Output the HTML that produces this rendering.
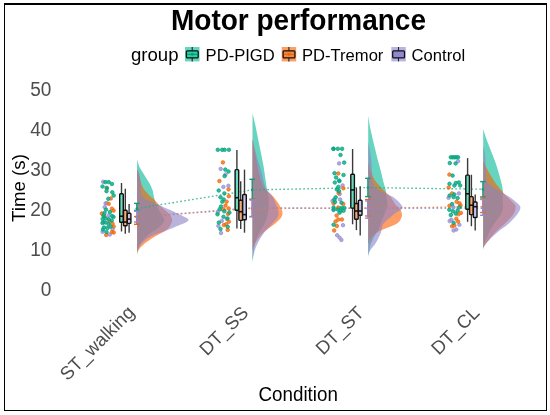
<!DOCTYPE html>
<html><head><meta charset="utf-8"><title>Motor performance</title>
<style>html,body{margin:0;padding:0;background:#fff;} body{width:550px;height:415px;overflow:hidden;}
.frame{position:absolute;box-sizing:border-box;left:3.6px;top:3.1px;width:543.4px;height:407.9px;border-style:solid;border-color:#000;border-width:2px 1.8px 1.6px 1.9px;}
svg{position:absolute;left:0;top:0}</style></head>
<body>
<svg width="550" height="415" viewBox="0 0 550 415">
<rect x="0" y="0" width="550" height="415" fill="#fff"/>
<path d="M137.10,159.20 C137.50,160.50 138.50,164.70 139.50,167.00 C140.50,169.30 141.88,170.98 143.10,173.00 C144.32,175.02 145.58,177.08 146.80,179.10 C148.02,181.12 149.40,183.10 150.40,185.10 C151.40,187.10 152.20,189.08 152.80,191.10 C153.40,193.12 153.62,195.58 154.00,197.20 C154.38,198.82 154.67,199.50 155.10,200.80 C155.53,202.10 155.83,203.18 156.60,205.00 C157.37,206.82 158.45,209.38 159.70,211.70 C160.95,214.02 163.60,216.98 164.10,218.90 C164.60,220.82 163.90,221.52 162.70,223.20 C161.50,224.88 159.07,227.30 156.90,229.00 C154.73,230.70 151.87,231.72 149.70,233.40 C147.53,235.08 145.57,237.18 143.90,239.10 C142.23,241.02 140.67,243.08 139.70,244.90 C138.73,246.72 138.53,248.20 138.10,250.00 C137.67,251.80 137.27,254.75 137.10,255.70 L137.10,255.70Z" fill="#00b793" fill-opacity="0.6"/>
<path d="M137.10,169.00 C137.32,169.58 138.00,171.17 138.40,172.50 C138.80,173.83 139.05,175.25 139.50,177.00 C139.95,178.75 140.47,181.10 141.10,183.00 C141.73,184.90 142.38,186.82 143.30,188.40 C144.22,189.98 145.38,191.10 146.60,192.50 C147.82,193.90 149.35,195.62 150.60,196.80 C151.85,197.98 152.60,198.15 154.10,199.60 C155.60,201.05 157.77,203.77 159.60,205.50 C161.43,207.23 163.52,208.58 165.10,210.00 C166.68,211.42 167.93,212.52 169.10,214.00 C170.27,215.48 171.73,217.37 172.10,218.90 C172.47,220.43 172.17,221.40 171.30,223.20 C170.43,225.00 169.57,227.53 166.90,229.70 C164.23,231.87 158.67,234.15 155.30,236.20 C151.93,238.25 149.10,240.18 146.70,242.00 C144.30,243.82 142.33,245.60 140.90,247.10 C139.47,248.60 138.73,250.02 138.10,251.00 C137.47,251.98 137.27,252.67 137.10,253.00 L137.10,253.00Z" fill="#fa5d00" fill-opacity="0.6"/>
<path d="M137.10,169.00 C137.40,169.58 138.43,171.17 138.90,172.50 C139.37,173.83 139.62,175.25 139.90,177.00 C140.18,178.75 140.43,180.83 140.60,183.00 C140.77,185.17 140.65,187.83 140.90,190.00 C141.15,192.17 141.07,194.33 142.10,196.00 C143.13,197.67 144.43,198.58 147.10,200.00 C149.77,201.42 155.02,203.17 158.10,204.50 C161.18,205.83 162.93,206.80 165.60,208.00 C168.27,209.20 171.02,210.25 174.10,211.70 C177.18,213.15 181.68,215.38 184.10,216.70 C186.52,218.02 188.33,218.63 188.60,219.60 C188.87,220.57 187.38,221.53 185.70,222.50 C184.02,223.47 180.67,224.50 178.50,225.40 C176.33,226.30 174.43,227.18 172.70,227.90 C170.97,228.62 170.37,228.85 168.10,229.70 C165.83,230.55 162.10,231.83 159.10,233.00 C156.10,234.17 152.77,235.20 150.10,236.70 C147.43,238.20 144.93,240.28 143.10,242.00 C141.27,243.72 140.10,245.50 139.10,247.00 C138.10,248.50 137.43,250.33 137.10,251.00 L137.10,251.00Z" fill="#8c80c8" fill-opacity="0.6"/>
<path d="M252.50,113.20 C252.98,115.25 254.23,120.03 255.40,125.50 C256.57,130.97 258.13,139.17 259.50,146.00 C260.87,152.83 262.42,159.67 263.60,166.50 C264.78,173.33 265.78,181.98 266.60,187.00 C267.42,192.02 268.18,193.08 268.50,196.60 C268.82,200.12 268.67,204.90 268.50,208.10 C268.33,211.30 268.13,213.23 267.50,215.80 C266.87,218.37 266.13,220.60 264.70,223.50 C263.27,226.40 260.52,229.98 258.90,233.20 C257.28,236.42 255.87,239.60 255.00,242.80 C254.13,246.00 254.12,249.20 253.70,252.40 C253.28,255.60 252.70,260.40 252.50,262.00 L252.50,262.00Z" fill="#00b793" fill-opacity="0.6"/>
<path d="M252.50,138.70 C253.12,142.08 255.12,153.22 256.20,159.00 C257.28,164.78 257.68,168.60 259.00,173.40 C260.32,178.20 261.73,183.93 264.10,187.80 C266.47,191.67 270.38,193.22 273.20,196.60 C276.02,199.98 279.53,204.90 281.00,208.10 C282.47,211.30 282.97,213.23 282.00,215.80 C281.03,218.37 278.45,220.60 275.20,223.50 C271.95,226.40 265.78,229.98 262.50,233.20 C259.22,236.42 257.17,240.00 255.50,242.80 C253.83,245.60 253.00,248.80 252.50,250.00 L252.50,250.00Z" fill="#fa5d00" fill-opacity="0.6"/>
<path d="M252.50,138.70 C253.33,142.08 255.93,153.22 257.50,159.00 C259.07,164.78 260.57,168.60 261.90,173.40 C263.23,178.20 263.75,183.93 265.50,187.80 C267.25,191.67 270.45,193.22 272.40,196.60 C274.35,199.98 276.23,204.90 277.20,208.10 C278.17,211.30 279.00,213.23 278.20,215.80 C277.40,218.37 274.82,220.60 272.40,223.50 C269.98,226.40 266.12,229.98 263.70,233.20 C261.28,236.42 259.50,239.60 257.90,242.80 C256.30,246.00 255.00,249.20 254.10,252.40 C253.20,255.60 252.77,260.40 252.50,262.00 L252.50,262.00Z" fill="#8c80c8" fill-opacity="0.6"/>
<path d="M368.20,115.80 C368.58,118.05 369.37,123.85 370.50,129.30 C371.63,134.75 373.78,143.38 375.00,148.50 C376.22,153.62 376.97,156.78 377.80,160.00 C378.63,163.22 379.00,163.93 380.00,167.80 C381.00,171.67 382.88,179.68 383.80,183.20 C384.72,186.72 385.05,186.67 385.50,188.90 C385.95,191.13 386.17,194.03 386.50,196.60 C386.83,199.17 387.50,202.22 387.50,204.30 C387.50,206.38 386.98,207.50 386.50,209.10 C386.02,210.70 385.57,211.50 384.60,213.90 C383.63,216.30 381.67,220.93 380.70,223.50 C379.73,226.07 379.55,227.68 378.80,229.30 C378.05,230.92 377.47,230.95 376.20,233.20 C374.93,235.45 372.33,239.92 371.20,242.80 C370.07,245.68 369.90,248.08 369.40,250.50 C368.90,252.92 368.40,256.17 368.20,257.30 L368.20,257.30Z" fill="#00b793" fill-opacity="0.6"/>
<path d="M368.20,162.00 C368.63,163.67 369.30,168.47 370.80,172.00 C372.30,175.53 373.97,179.10 377.20,183.20 C380.43,187.30 387.20,193.08 390.20,196.60 C393.20,200.12 393.57,202.22 395.20,204.30 C396.83,206.38 398.88,207.50 400.00,209.10 C401.12,210.70 401.70,212.42 401.90,213.90 C402.10,215.38 402.00,216.40 401.20,218.00 C400.40,219.60 400.03,221.62 397.10,223.50 C394.17,225.38 387.08,227.68 383.60,229.30 C380.12,230.92 378.27,231.75 376.20,233.20 C374.13,234.65 372.53,236.20 371.20,238.00 C369.87,239.80 368.70,243.00 368.20,244.00 L368.20,244.00Z" fill="#fa5d00" fill-opacity="0.6"/>
<path d="M368.20,142.00 C368.47,143.33 369.33,147.33 369.80,150.00 C370.27,152.67 370.67,155.03 371.00,158.00 C371.33,160.97 371.57,164.80 371.80,167.80 C372.03,170.80 372.17,173.43 372.40,176.00 C372.63,178.57 372.40,181.05 373.20,183.20 C374.00,185.35 374.02,186.67 377.20,188.90 C380.38,191.13 388.35,194.03 392.30,196.60 C396.25,199.17 399.30,202.22 400.90,204.30 C402.50,206.38 403.02,207.50 401.90,209.10 C400.78,210.70 397.25,211.50 394.20,213.90 C391.15,216.30 385.68,220.93 383.60,223.50 C381.52,226.07 382.18,227.68 381.70,229.30 C381.22,230.92 381.67,230.95 380.70,233.20 C379.73,235.45 377.67,239.92 375.90,242.80 C374.13,245.68 371.38,248.47 370.10,250.50 C368.82,252.53 368.52,254.25 368.20,255.00 L368.20,255.00Z" fill="#8c80c8" fill-opacity="0.6"/>
<path d="M483.20,128.90 C483.57,130.08 484.53,133.43 485.40,136.00 C486.27,138.57 486.67,139.72 488.40,144.30 C490.13,148.88 493.63,157.08 495.80,163.50 C497.97,169.92 500.20,177.98 501.40,182.80 C502.60,187.62 502.78,189.87 503.00,192.40 C503.22,194.93 502.70,196.02 502.70,198.00 C502.70,199.98 502.95,202.62 503.00,204.30 C503.05,205.98 503.32,206.50 503.00,208.10 C502.68,209.70 502.53,211.33 501.10,213.90 C499.67,216.47 496.48,220.28 494.40,223.50 C492.32,226.72 490.22,229.98 488.60,233.20 C486.98,236.42 485.60,239.92 484.70,242.80 C483.80,245.68 483.45,249.22 483.20,250.50 L483.20,250.50Z" fill="#00b793" fill-opacity="0.6"/>
<path d="M483.20,160.00 C483.45,160.67 483.78,162.00 484.70,164.00 C485.62,166.00 486.95,168.87 488.70,172.00 C490.45,175.13 493.30,179.98 495.20,182.80 C497.10,185.62 498.15,186.60 500.10,188.90 C502.05,191.20 504.48,194.03 506.90,196.60 C509.32,199.17 513.17,202.38 514.60,204.30 C516.03,206.22 515.67,206.50 515.50,208.10 C515.33,209.70 515.37,211.33 513.60,213.90 C511.83,216.47 508.10,220.28 504.90,223.50 C501.70,226.72 497.45,229.98 494.40,233.20 C491.35,236.42 488.47,240.33 486.60,242.80 C484.73,245.27 483.77,247.13 483.20,248.00 L483.20,248.00Z" fill="#fa5d00" fill-opacity="0.6"/>
<path d="M483.20,146.00 C483.45,147.00 484.33,149.67 484.70,152.00 C485.07,154.33 485.22,157.00 485.40,160.00 C485.58,163.00 485.67,167.33 485.80,170.00 C485.93,172.67 485.88,173.87 486.20,176.00 C486.52,178.13 486.03,180.65 487.70,182.80 C489.37,184.95 492.68,186.60 496.20,188.90 C499.72,191.20 505.10,194.03 508.80,196.60 C512.50,199.17 516.47,202.38 518.40,204.30 C520.33,206.22 520.55,206.50 520.40,208.10 C520.25,209.70 519.43,211.33 517.50,213.90 C515.57,216.47 512.33,220.28 508.80,223.50 C505.27,226.72 500.00,229.98 496.30,233.20 C492.60,236.42 488.78,240.33 486.60,242.80 C484.42,245.27 483.77,247.13 483.20,248.00 L483.20,248.00Z" fill="#8c80c8" fill-opacity="0.6"/>
<polyline points="136.8,208.5 252.2,189.9 367.9,187.6 482.9,189.2" fill="none" stroke="#1fae88" stroke-width="1.35" stroke-opacity="0.8" stroke-dasharray="1.7 2.3"/>
<polyline points="136.8,217.2 252.2,208.4 367.9,208.1 482.9,206.7" fill="none" stroke="#ec7a33" stroke-width="1.35" stroke-opacity="0.8" stroke-dasharray="1.7 2.3"/>
<polyline points="136.8,217.0 252.2,207.8 367.9,208.3 482.9,208.2" fill="none" stroke="#8f89cf" stroke-width="1.35" stroke-opacity="0.8" stroke-dasharray="1.7 2.3"/>
<circle cx="103.2" cy="181.8" r="1.75" fill="#9a94d6" fill-opacity="0.8" stroke="#9a94d6" stroke-opacity="0.85" stroke-width="1"/>
<circle cx="106.5" cy="203.1" r="1.75" fill="#9a94d6" fill-opacity="0.8" stroke="#9a94d6" stroke-opacity="0.85" stroke-width="1"/>
<circle cx="105.6" cy="203.4" r="1.75" fill="#9a94d6" fill-opacity="0.8" stroke="#9a94d6" stroke-opacity="0.85" stroke-width="1"/>
<circle cx="104.7" cy="207.2" r="1.75" fill="#9a94d6" fill-opacity="0.8" stroke="#9a94d6" stroke-opacity="0.85" stroke-width="1"/>
<circle cx="108.6" cy="215.4" r="1.75" fill="#9a94d6" fill-opacity="0.8" stroke="#9a94d6" stroke-opacity="0.85" stroke-width="1"/>
<circle cx="103.5" cy="222.0" r="1.75" fill="#9a94d6" fill-opacity="0.8" stroke="#9a94d6" stroke-opacity="0.85" stroke-width="1"/>
<circle cx="102.6" cy="231.8" r="1.75" fill="#9a94d6" fill-opacity="0.8" stroke="#9a94d6" stroke-opacity="0.85" stroke-width="1"/>
<circle cx="109.8" cy="234.5" r="1.75" fill="#9a94d6" fill-opacity="0.8" stroke="#9a94d6" stroke-opacity="0.85" stroke-width="1"/>
<circle cx="112.5" cy="229.0" r="1.75" fill="#9a94d6" fill-opacity="0.8" stroke="#9a94d6" stroke-opacity="0.85" stroke-width="1"/>
<circle cx="106.8" cy="188.3" r="1.75" fill="#f36e14" fill-opacity="0.8" stroke="#f36e14" stroke-opacity="0.85" stroke-width="1"/>
<circle cx="110.8" cy="198.4" r="1.75" fill="#f36e14" fill-opacity="0.8" stroke="#f36e14" stroke-opacity="0.85" stroke-width="1"/>
<circle cx="108.7" cy="203.8" r="1.75" fill="#f36e14" fill-opacity="0.8" stroke="#f36e14" stroke-opacity="0.85" stroke-width="1"/>
<circle cx="111.9" cy="208.7" r="1.75" fill="#f36e14" fill-opacity="0.8" stroke="#f36e14" stroke-opacity="0.85" stroke-width="1"/>
<circle cx="113.6" cy="210.6" r="1.75" fill="#f36e14" fill-opacity="0.8" stroke="#f36e14" stroke-opacity="0.85" stroke-width="1"/>
<circle cx="101.8" cy="213.5" r="1.75" fill="#f36e14" fill-opacity="0.8" stroke="#f36e14" stroke-opacity="0.85" stroke-width="1"/>
<circle cx="109.5" cy="221.5" r="1.75" fill="#f36e14" fill-opacity="0.8" stroke="#f36e14" stroke-opacity="0.85" stroke-width="1"/>
<circle cx="112.5" cy="223.6" r="1.75" fill="#f36e14" fill-opacity="0.8" stroke="#f36e14" stroke-opacity="0.85" stroke-width="1"/>
<circle cx="113.7" cy="226.5" r="1.75" fill="#f36e14" fill-opacity="0.8" stroke="#f36e14" stroke-opacity="0.85" stroke-width="1"/>
<circle cx="112.0" cy="232.0" r="1.75" fill="#f36e14" fill-opacity="0.8" stroke="#f36e14" stroke-opacity="0.85" stroke-width="1"/>
<circle cx="113.7" cy="232.5" r="1.75" fill="#f36e14" fill-opacity="0.8" stroke="#f36e14" stroke-opacity="0.85" stroke-width="1"/>
<circle cx="106.2" cy="235.0" r="1.75" fill="#f36e14" fill-opacity="0.8" stroke="#f36e14" stroke-opacity="0.85" stroke-width="1"/>
<circle cx="104.0" cy="216.5" r="1.75" fill="#f36e14" fill-opacity="0.8" stroke="#f36e14" stroke-opacity="0.85" stroke-width="1"/>
<circle cx="105.4" cy="182.1" r="1.75" fill="#08a882" fill-opacity="0.8" stroke="#08a882" stroke-opacity="0.85" stroke-width="1"/>
<circle cx="108.7" cy="182.1" r="1.75" fill="#08a882" fill-opacity="0.8" stroke="#08a882" stroke-opacity="0.85" stroke-width="1"/>
<circle cx="111.9" cy="184.0" r="1.75" fill="#08a882" fill-opacity="0.8" stroke="#08a882" stroke-opacity="0.85" stroke-width="1"/>
<circle cx="102.5" cy="186.5" r="1.75" fill="#08a882" fill-opacity="0.8" stroke="#08a882" stroke-opacity="0.85" stroke-width="1"/>
<circle cx="106.8" cy="187.9" r="1.75" fill="#08a882" fill-opacity="0.8" stroke="#08a882" stroke-opacity="0.85" stroke-width="1"/>
<circle cx="106.5" cy="191.2" r="1.75" fill="#08a882" fill-opacity="0.8" stroke="#08a882" stroke-opacity="0.85" stroke-width="1"/>
<circle cx="112.3" cy="192.3" r="1.75" fill="#08a882" fill-opacity="0.8" stroke="#08a882" stroke-opacity="0.85" stroke-width="1"/>
<circle cx="113.7" cy="195.5" r="1.75" fill="#08a882" fill-opacity="0.8" stroke="#08a882" stroke-opacity="0.85" stroke-width="1"/>
<circle cx="108.3" cy="198.8" r="1.75" fill="#08a882" fill-opacity="0.8" stroke="#08a882" stroke-opacity="0.85" stroke-width="1"/>
<circle cx="106.0" cy="209.6" r="1.75" fill="#08a882" fill-opacity="0.8" stroke="#08a882" stroke-opacity="0.85" stroke-width="1"/>
<circle cx="104.5" cy="213.0" r="1.75" fill="#08a882" fill-opacity="0.8" stroke="#08a882" stroke-opacity="0.85" stroke-width="1"/>
<circle cx="112.0" cy="216.0" r="1.75" fill="#08a882" fill-opacity="0.8" stroke="#08a882" stroke-opacity="0.85" stroke-width="1"/>
<circle cx="113.5" cy="217.0" r="1.75" fill="#08a882" fill-opacity="0.8" stroke="#08a882" stroke-opacity="0.85" stroke-width="1"/>
<circle cx="102.7" cy="219.0" r="1.75" fill="#08a882" fill-opacity="0.8" stroke="#08a882" stroke-opacity="0.85" stroke-width="1"/>
<circle cx="105.6" cy="218.3" r="1.75" fill="#08a882" fill-opacity="0.8" stroke="#08a882" stroke-opacity="0.85" stroke-width="1"/>
<circle cx="108.7" cy="219.3" r="1.75" fill="#08a882" fill-opacity="0.8" stroke="#08a882" stroke-opacity="0.85" stroke-width="1"/>
<circle cx="111.7" cy="220.5" r="1.75" fill="#08a882" fill-opacity="0.8" stroke="#08a882" stroke-opacity="0.85" stroke-width="1"/>
<circle cx="102.5" cy="223.0" r="1.75" fill="#08a882" fill-opacity="0.8" stroke="#08a882" stroke-opacity="0.85" stroke-width="1"/>
<circle cx="105.5" cy="222.5" r="1.75" fill="#08a882" fill-opacity="0.8" stroke="#08a882" stroke-opacity="0.85" stroke-width="1"/>
<circle cx="108.5" cy="224.0" r="1.75" fill="#08a882" fill-opacity="0.8" stroke="#08a882" stroke-opacity="0.85" stroke-width="1"/>
<circle cx="104.0" cy="227.5" r="1.75" fill="#08a882" fill-opacity="0.8" stroke="#08a882" stroke-opacity="0.85" stroke-width="1"/>
<circle cx="107.5" cy="228.0" r="1.75" fill="#08a882" fill-opacity="0.8" stroke="#08a882" stroke-opacity="0.85" stroke-width="1"/>
<circle cx="110.5" cy="226.5" r="1.75" fill="#08a882" fill-opacity="0.8" stroke="#08a882" stroke-opacity="0.85" stroke-width="1"/>
<circle cx="106.5" cy="232.0" r="1.75" fill="#08a882" fill-opacity="0.8" stroke="#08a882" stroke-opacity="0.85" stroke-width="1"/>
<circle cx="103.5" cy="215.5" r="1.75" fill="#08a882" fill-opacity="0.8" stroke="#08a882" stroke-opacity="0.85" stroke-width="1"/>
<circle cx="110.0" cy="212.0" r="1.75" fill="#08a882" fill-opacity="0.8" stroke="#08a882" stroke-opacity="0.85" stroke-width="1"/>
<circle cx="103.0" cy="229.5" r="1.75" fill="#08a882" fill-opacity="0.8" stroke="#08a882" stroke-opacity="0.85" stroke-width="1"/>
<circle cx="220.7" cy="168.9" r="1.75" fill="#9a94d6" fill-opacity="0.8" stroke="#9a94d6" stroke-opacity="0.85" stroke-width="1"/>
<circle cx="225.6" cy="174.4" r="1.75" fill="#9a94d6" fill-opacity="0.8" stroke="#9a94d6" stroke-opacity="0.85" stroke-width="1"/>
<circle cx="223.4" cy="186.9" r="1.75" fill="#9a94d6" fill-opacity="0.8" stroke="#9a94d6" stroke-opacity="0.85" stroke-width="1"/>
<circle cx="228.4" cy="185.8" r="1.75" fill="#9a94d6" fill-opacity="0.8" stroke="#9a94d6" stroke-opacity="0.85" stroke-width="1"/>
<circle cx="217.8" cy="212.2" r="1.75" fill="#9a94d6" fill-opacity="0.8" stroke="#9a94d6" stroke-opacity="0.85" stroke-width="1"/>
<circle cx="226.9" cy="218.9" r="1.75" fill="#9a94d6" fill-opacity="0.8" stroke="#9a94d6" stroke-opacity="0.85" stroke-width="1"/>
<circle cx="221.8" cy="220.9" r="1.75" fill="#9a94d6" fill-opacity="0.8" stroke="#9a94d6" stroke-opacity="0.85" stroke-width="1"/>
<circle cx="218.4" cy="225.9" r="1.75" fill="#9a94d6" fill-opacity="0.8" stroke="#9a94d6" stroke-opacity="0.85" stroke-width="1"/>
<circle cx="221.0" cy="233.0" r="1.75" fill="#9a94d6" fill-opacity="0.8" stroke="#9a94d6" stroke-opacity="0.85" stroke-width="1"/>
<circle cx="222.9" cy="162.4" r="1.75" fill="#f36e14" fill-opacity="0.8" stroke="#f36e14" stroke-opacity="0.85" stroke-width="1"/>
<circle cx="219.4" cy="181.1" r="1.75" fill="#f36e14" fill-opacity="0.8" stroke="#f36e14" stroke-opacity="0.85" stroke-width="1"/>
<circle cx="228.5" cy="189.4" r="1.75" fill="#f36e14" fill-opacity="0.8" stroke="#f36e14" stroke-opacity="0.85" stroke-width="1"/>
<circle cx="228.8" cy="196.2" r="1.75" fill="#f36e14" fill-opacity="0.8" stroke="#f36e14" stroke-opacity="0.85" stroke-width="1"/>
<circle cx="226.6" cy="201.7" r="1.75" fill="#f36e14" fill-opacity="0.8" stroke="#f36e14" stroke-opacity="0.85" stroke-width="1"/>
<circle cx="223.5" cy="209.2" r="1.75" fill="#f36e14" fill-opacity="0.8" stroke="#f36e14" stroke-opacity="0.85" stroke-width="1"/>
<circle cx="228.6" cy="208.4" r="1.75" fill="#f36e14" fill-opacity="0.8" stroke="#f36e14" stroke-opacity="0.85" stroke-width="1"/>
<circle cx="228.0" cy="214.0" r="1.75" fill="#f36e14" fill-opacity="0.8" stroke="#f36e14" stroke-opacity="0.85" stroke-width="1"/>
<circle cx="228.9" cy="221.7" r="1.75" fill="#f36e14" fill-opacity="0.8" stroke="#f36e14" stroke-opacity="0.85" stroke-width="1"/>
<circle cx="223.9" cy="225.1" r="1.75" fill="#f36e14" fill-opacity="0.8" stroke="#f36e14" stroke-opacity="0.85" stroke-width="1"/>
<circle cx="226.1" cy="224.3" r="1.75" fill="#f36e14" fill-opacity="0.8" stroke="#f36e14" stroke-opacity="0.85" stroke-width="1"/>
<circle cx="227.7" cy="229.9" r="1.75" fill="#f36e14" fill-opacity="0.8" stroke="#f36e14" stroke-opacity="0.85" stroke-width="1"/>
<circle cx="225.5" cy="205.5" r="1.75" fill="#f36e14" fill-opacity="0.8" stroke="#f36e14" stroke-opacity="0.85" stroke-width="1"/>
<circle cx="217.8" cy="149.8" r="1.75" fill="#08a882" fill-opacity="0.8" stroke="#08a882" stroke-opacity="0.85" stroke-width="1"/>
<circle cx="222.2" cy="149.8" r="1.75" fill="#08a882" fill-opacity="0.8" stroke="#08a882" stroke-opacity="0.85" stroke-width="1"/>
<circle cx="224.6" cy="149.8" r="1.75" fill="#08a882" fill-opacity="0.8" stroke="#08a882" stroke-opacity="0.85" stroke-width="1"/>
<circle cx="228.9" cy="149.8" r="1.75" fill="#08a882" fill-opacity="0.8" stroke="#08a882" stroke-opacity="0.85" stroke-width="1"/>
<circle cx="225.3" cy="169.6" r="1.75" fill="#08a882" fill-opacity="0.8" stroke="#08a882" stroke-opacity="0.85" stroke-width="1"/>
<circle cx="228.5" cy="171.5" r="1.75" fill="#08a882" fill-opacity="0.8" stroke="#08a882" stroke-opacity="0.85" stroke-width="1"/>
<circle cx="224.6" cy="176.1" r="1.75" fill="#08a882" fill-opacity="0.8" stroke="#08a882" stroke-opacity="0.85" stroke-width="1"/>
<circle cx="218.7" cy="190.5" r="1.75" fill="#08a882" fill-opacity="0.8" stroke="#08a882" stroke-opacity="0.85" stroke-width="1"/>
<circle cx="224.4" cy="193.4" r="1.75" fill="#08a882" fill-opacity="0.8" stroke="#08a882" stroke-opacity="0.85" stroke-width="1"/>
<circle cx="220.5" cy="197.3" r="1.75" fill="#08a882" fill-opacity="0.8" stroke="#08a882" stroke-opacity="0.85" stroke-width="1"/>
<circle cx="223.7" cy="199.5" r="1.75" fill="#08a882" fill-opacity="0.8" stroke="#08a882" stroke-opacity="0.85" stroke-width="1"/>
<circle cx="222.3" cy="201.7" r="1.75" fill="#08a882" fill-opacity="0.8" stroke="#08a882" stroke-opacity="0.85" stroke-width="1"/>
<circle cx="219.7" cy="209.2" r="1.75" fill="#08a882" fill-opacity="0.8" stroke="#08a882" stroke-opacity="0.85" stroke-width="1"/>
<circle cx="224.3" cy="211.3" r="1.75" fill="#08a882" fill-opacity="0.8" stroke="#08a882" stroke-opacity="0.85" stroke-width="1"/>
<circle cx="229.4" cy="212.6" r="1.75" fill="#08a882" fill-opacity="0.8" stroke="#08a882" stroke-opacity="0.85" stroke-width="1"/>
<circle cx="217.5" cy="214.3" r="1.75" fill="#08a882" fill-opacity="0.8" stroke="#08a882" stroke-opacity="0.85" stroke-width="1"/>
<circle cx="223.5" cy="216.8" r="1.75" fill="#08a882" fill-opacity="0.8" stroke="#08a882" stroke-opacity="0.85" stroke-width="1"/>
<circle cx="218.8" cy="222.6" r="1.75" fill="#08a882" fill-opacity="0.8" stroke="#08a882" stroke-opacity="0.85" stroke-width="1"/>
<circle cx="227.7" cy="226.8" r="1.75" fill="#08a882" fill-opacity="0.8" stroke="#08a882" stroke-opacity="0.85" stroke-width="1"/>
<circle cx="220.5" cy="229.1" r="1.75" fill="#08a882" fill-opacity="0.8" stroke="#08a882" stroke-opacity="0.85" stroke-width="1"/>
<circle cx="221.0" cy="206.5" r="1.75" fill="#08a882" fill-opacity="0.8" stroke="#08a882" stroke-opacity="0.85" stroke-width="1"/>
<circle cx="227.5" cy="218.5" r="1.75" fill="#08a882" fill-opacity="0.8" stroke="#08a882" stroke-opacity="0.85" stroke-width="1"/>
<circle cx="339.1" cy="163.4" r="1.75" fill="#9a94d6" fill-opacity="0.8" stroke="#9a94d6" stroke-opacity="0.85" stroke-width="1"/>
<circle cx="342.6" cy="185.4" r="1.75" fill="#9a94d6" fill-opacity="0.8" stroke="#9a94d6" stroke-opacity="0.85" stroke-width="1"/>
<circle cx="339.7" cy="194.0" r="1.75" fill="#9a94d6" fill-opacity="0.8" stroke="#9a94d6" stroke-opacity="0.85" stroke-width="1"/>
<circle cx="340.1" cy="199.5" r="1.75" fill="#9a94d6" fill-opacity="0.8" stroke="#9a94d6" stroke-opacity="0.85" stroke-width="1"/>
<circle cx="332.5" cy="201.0" r="1.75" fill="#9a94d6" fill-opacity="0.8" stroke="#9a94d6" stroke-opacity="0.85" stroke-width="1"/>
<circle cx="333.5" cy="210.0" r="1.75" fill="#9a94d6" fill-opacity="0.8" stroke="#9a94d6" stroke-opacity="0.85" stroke-width="1"/>
<circle cx="343.0" cy="225.2" r="1.75" fill="#9a94d6" fill-opacity="0.8" stroke="#9a94d6" stroke-opacity="0.85" stroke-width="1"/>
<circle cx="337.1" cy="235.2" r="1.75" fill="#9a94d6" fill-opacity="0.8" stroke="#9a94d6" stroke-opacity="0.85" stroke-width="1"/>
<circle cx="339.5" cy="237.6" r="1.75" fill="#9a94d6" fill-opacity="0.8" stroke="#9a94d6" stroke-opacity="0.85" stroke-width="1"/>
<circle cx="341.4" cy="239.9" r="1.75" fill="#9a94d6" fill-opacity="0.8" stroke="#9a94d6" stroke-opacity="0.85" stroke-width="1"/>
<circle cx="338.3" cy="173.4" r="1.75" fill="#f36e14" fill-opacity="0.8" stroke="#f36e14" stroke-opacity="0.85" stroke-width="1"/>
<circle cx="343.3" cy="188.3" r="1.75" fill="#f36e14" fill-opacity="0.8" stroke="#f36e14" stroke-opacity="0.85" stroke-width="1"/>
<circle cx="338.6" cy="193.0" r="1.75" fill="#f36e14" fill-opacity="0.8" stroke="#f36e14" stroke-opacity="0.85" stroke-width="1"/>
<circle cx="333.6" cy="203.5" r="1.75" fill="#f36e14" fill-opacity="0.8" stroke="#f36e14" stroke-opacity="0.85" stroke-width="1"/>
<circle cx="343.3" cy="204.0" r="1.75" fill="#f36e14" fill-opacity="0.8" stroke="#f36e14" stroke-opacity="0.85" stroke-width="1"/>
<circle cx="338.3" cy="207.5" r="1.75" fill="#f36e14" fill-opacity="0.8" stroke="#f36e14" stroke-opacity="0.85" stroke-width="1"/>
<circle cx="336.6" cy="215.6" r="1.75" fill="#f36e14" fill-opacity="0.8" stroke="#f36e14" stroke-opacity="0.85" stroke-width="1"/>
<circle cx="338.3" cy="219.5" r="1.75" fill="#f36e14" fill-opacity="0.8" stroke="#f36e14" stroke-opacity="0.85" stroke-width="1"/>
<circle cx="341.9" cy="219.5" r="1.75" fill="#f36e14" fill-opacity="0.8" stroke="#f36e14" stroke-opacity="0.85" stroke-width="1"/>
<circle cx="335.6" cy="221.4" r="1.75" fill="#f36e14" fill-opacity="0.8" stroke="#f36e14" stroke-opacity="0.85" stroke-width="1"/>
<circle cx="336.8" cy="226.0" r="1.75" fill="#f36e14" fill-opacity="0.8" stroke="#f36e14" stroke-opacity="0.85" stroke-width="1"/>
<circle cx="334.2" cy="230.5" r="1.75" fill="#f36e14" fill-opacity="0.8" stroke="#f36e14" stroke-opacity="0.85" stroke-width="1"/>
<circle cx="333.3" cy="148.8" r="1.75" fill="#08a882" fill-opacity="0.8" stroke="#08a882" stroke-opacity="0.85" stroke-width="1"/>
<circle cx="333.6" cy="148.8" r="1.75" fill="#08a882" fill-opacity="0.8" stroke="#08a882" stroke-opacity="0.85" stroke-width="1"/>
<circle cx="337.8" cy="148.8" r="1.75" fill="#08a882" fill-opacity="0.8" stroke="#08a882" stroke-opacity="0.85" stroke-width="1"/>
<circle cx="342.1" cy="148.8" r="1.75" fill="#08a882" fill-opacity="0.8" stroke="#08a882" stroke-opacity="0.85" stroke-width="1"/>
<circle cx="340.5" cy="154.9" r="1.75" fill="#08a882" fill-opacity="0.8" stroke="#08a882" stroke-opacity="0.85" stroke-width="1"/>
<circle cx="344.2" cy="162.6" r="1.75" fill="#08a882" fill-opacity="0.8" stroke="#08a882" stroke-opacity="0.85" stroke-width="1"/>
<circle cx="334.5" cy="173.2" r="1.75" fill="#08a882" fill-opacity="0.8" stroke="#08a882" stroke-opacity="0.85" stroke-width="1"/>
<circle cx="343.5" cy="175.0" r="1.75" fill="#08a882" fill-opacity="0.8" stroke="#08a882" stroke-opacity="0.85" stroke-width="1"/>
<circle cx="336.1" cy="177.5" r="1.75" fill="#08a882" fill-opacity="0.8" stroke="#08a882" stroke-opacity="0.85" stroke-width="1"/>
<circle cx="339.2" cy="180.6" r="1.75" fill="#08a882" fill-opacity="0.8" stroke="#08a882" stroke-opacity="0.85" stroke-width="1"/>
<circle cx="334.8" cy="182.5" r="1.75" fill="#08a882" fill-opacity="0.8" stroke="#08a882" stroke-opacity="0.85" stroke-width="1"/>
<circle cx="339.4" cy="181.0" r="1.75" fill="#08a882" fill-opacity="0.8" stroke="#08a882" stroke-opacity="0.85" stroke-width="1"/>
<circle cx="338.3" cy="186.9" r="1.75" fill="#08a882" fill-opacity="0.8" stroke="#08a882" stroke-opacity="0.85" stroke-width="1"/>
<circle cx="336.8" cy="189.4" r="1.75" fill="#08a882" fill-opacity="0.8" stroke="#08a882" stroke-opacity="0.85" stroke-width="1"/>
<circle cx="339.0" cy="191.2" r="1.75" fill="#08a882" fill-opacity="0.8" stroke="#08a882" stroke-opacity="0.85" stroke-width="1"/>
<circle cx="335.7" cy="197.3" r="1.75" fill="#08a882" fill-opacity="0.8" stroke="#08a882" stroke-opacity="0.85" stroke-width="1"/>
<circle cx="334.3" cy="199.5" r="1.75" fill="#08a882" fill-opacity="0.8" stroke="#08a882" stroke-opacity="0.85" stroke-width="1"/>
<circle cx="335.0" cy="202.0" r="1.75" fill="#08a882" fill-opacity="0.8" stroke="#08a882" stroke-opacity="0.85" stroke-width="1"/>
<circle cx="341.5" cy="202.7" r="1.75" fill="#08a882" fill-opacity="0.8" stroke="#08a882" stroke-opacity="0.85" stroke-width="1"/>
<circle cx="333.6" cy="207.5" r="1.75" fill="#08a882" fill-opacity="0.8" stroke="#08a882" stroke-opacity="0.85" stroke-width="1"/>
<circle cx="341.5" cy="208.0" r="1.75" fill="#08a882" fill-opacity="0.8" stroke="#08a882" stroke-opacity="0.85" stroke-width="1"/>
<circle cx="344.4" cy="208.0" r="1.75" fill="#08a882" fill-opacity="0.8" stroke="#08a882" stroke-opacity="0.85" stroke-width="1"/>
<circle cx="333.7" cy="209.5" r="1.75" fill="#08a882" fill-opacity="0.8" stroke="#08a882" stroke-opacity="0.85" stroke-width="1"/>
<circle cx="337.6" cy="209.4" r="1.75" fill="#08a882" fill-opacity="0.8" stroke="#08a882" stroke-opacity="0.85" stroke-width="1"/>
<circle cx="340.5" cy="210.8" r="1.75" fill="#08a882" fill-opacity="0.8" stroke="#08a882" stroke-opacity="0.85" stroke-width="1"/>
<circle cx="343.5" cy="210.8" r="1.75" fill="#08a882" fill-opacity="0.8" stroke="#08a882" stroke-opacity="0.85" stroke-width="1"/>
<circle cx="339.5" cy="212.7" r="1.75" fill="#08a882" fill-opacity="0.8" stroke="#08a882" stroke-opacity="0.85" stroke-width="1"/>
<circle cx="333.6" cy="224.7" r="1.75" fill="#08a882" fill-opacity="0.8" stroke="#08a882" stroke-opacity="0.85" stroke-width="1"/>
<circle cx="458.1" cy="161.2" r="1.75" fill="#9a94d6" fill-opacity="0.8" stroke="#9a94d6" stroke-opacity="0.85" stroke-width="1"/>
<circle cx="458.9" cy="193.4" r="1.75" fill="#9a94d6" fill-opacity="0.8" stroke="#9a94d6" stroke-opacity="0.85" stroke-width="1"/>
<circle cx="448.5" cy="197.8" r="1.75" fill="#9a94d6" fill-opacity="0.8" stroke="#9a94d6" stroke-opacity="0.85" stroke-width="1"/>
<circle cx="453.4" cy="207.3" r="1.75" fill="#9a94d6" fill-opacity="0.8" stroke="#9a94d6" stroke-opacity="0.85" stroke-width="1"/>
<circle cx="451.4" cy="219.7" r="1.75" fill="#9a94d6" fill-opacity="0.8" stroke="#9a94d6" stroke-opacity="0.85" stroke-width="1"/>
<circle cx="449.7" cy="221.1" r="1.75" fill="#9a94d6" fill-opacity="0.8" stroke="#9a94d6" stroke-opacity="0.85" stroke-width="1"/>
<circle cx="459.4" cy="224.8" r="1.75" fill="#9a94d6" fill-opacity="0.8" stroke="#9a94d6" stroke-opacity="0.85" stroke-width="1"/>
<circle cx="453.6" cy="230.5" r="1.75" fill="#9a94d6" fill-opacity="0.8" stroke="#9a94d6" stroke-opacity="0.85" stroke-width="1"/>
<circle cx="456.3" cy="229.5" r="1.75" fill="#9a94d6" fill-opacity="0.8" stroke="#9a94d6" stroke-opacity="0.85" stroke-width="1"/>
<circle cx="449.4" cy="174.6" r="1.75" fill="#f36e14" fill-opacity="0.8" stroke="#f36e14" stroke-opacity="0.85" stroke-width="1"/>
<circle cx="448.7" cy="187.5" r="1.75" fill="#f36e14" fill-opacity="0.8" stroke="#f36e14" stroke-opacity="0.85" stroke-width="1"/>
<circle cx="452.1" cy="193.4" r="1.75" fill="#f36e14" fill-opacity="0.8" stroke="#f36e14" stroke-opacity="0.85" stroke-width="1"/>
<circle cx="456.6" cy="201.7" r="1.75" fill="#f36e14" fill-opacity="0.8" stroke="#f36e14" stroke-opacity="0.85" stroke-width="1"/>
<circle cx="459.4" cy="203.2" r="1.75" fill="#f36e14" fill-opacity="0.8" stroke="#f36e14" stroke-opacity="0.85" stroke-width="1"/>
<circle cx="460.5" cy="205.4" r="1.75" fill="#f36e14" fill-opacity="0.8" stroke="#f36e14" stroke-opacity="0.85" stroke-width="1"/>
<circle cx="449.5" cy="205.8" r="1.75" fill="#f36e14" fill-opacity="0.8" stroke="#f36e14" stroke-opacity="0.85" stroke-width="1"/>
<circle cx="458.5" cy="214.3" r="1.75" fill="#f36e14" fill-opacity="0.8" stroke="#f36e14" stroke-opacity="0.85" stroke-width="1"/>
<circle cx="460.9" cy="212.9" r="1.75" fill="#f36e14" fill-opacity="0.8" stroke="#f36e14" stroke-opacity="0.85" stroke-width="1"/>
<circle cx="456.3" cy="218.7" r="1.75" fill="#f36e14" fill-opacity="0.8" stroke="#f36e14" stroke-opacity="0.85" stroke-width="1"/>
<circle cx="458.1" cy="221.6" r="1.75" fill="#f36e14" fill-opacity="0.8" stroke="#f36e14" stroke-opacity="0.85" stroke-width="1"/>
<circle cx="452.1" cy="226.3" r="1.75" fill="#f36e14" fill-opacity="0.8" stroke="#f36e14" stroke-opacity="0.85" stroke-width="1"/>
<circle cx="454.3" cy="225.5" r="1.75" fill="#f36e14" fill-opacity="0.8" stroke="#f36e14" stroke-opacity="0.85" stroke-width="1"/>
<circle cx="450.8" cy="157.3" r="1.75" fill="#08a882" fill-opacity="0.8" stroke="#08a882" stroke-opacity="0.85" stroke-width="1"/>
<circle cx="452.6" cy="157.3" r="1.75" fill="#08a882" fill-opacity="0.8" stroke="#08a882" stroke-opacity="0.85" stroke-width="1"/>
<circle cx="454.4" cy="157.3" r="1.75" fill="#08a882" fill-opacity="0.8" stroke="#08a882" stroke-opacity="0.85" stroke-width="1"/>
<circle cx="456.2" cy="157.3" r="1.75" fill="#08a882" fill-opacity="0.8" stroke="#08a882" stroke-opacity="0.85" stroke-width="1"/>
<circle cx="458.0" cy="157.3" r="1.75" fill="#08a882" fill-opacity="0.8" stroke="#08a882" stroke-opacity="0.85" stroke-width="1"/>
<circle cx="449.8" cy="163.1" r="1.75" fill="#08a882" fill-opacity="0.8" stroke="#08a882" stroke-opacity="0.85" stroke-width="1"/>
<circle cx="455.6" cy="163.4" r="1.75" fill="#08a882" fill-opacity="0.8" stroke="#08a882" stroke-opacity="0.85" stroke-width="1"/>
<circle cx="452.6" cy="175.6" r="1.75" fill="#08a882" fill-opacity="0.8" stroke="#08a882" stroke-opacity="0.85" stroke-width="1"/>
<circle cx="449.5" cy="183.8" r="1.75" fill="#08a882" fill-opacity="0.8" stroke="#08a882" stroke-opacity="0.85" stroke-width="1"/>
<circle cx="455.8" cy="183.0" r="1.75" fill="#08a882" fill-opacity="0.8" stroke="#08a882" stroke-opacity="0.85" stroke-width="1"/>
<circle cx="458.8" cy="182.4" r="1.75" fill="#08a882" fill-opacity="0.8" stroke="#08a882" stroke-opacity="0.85" stroke-width="1"/>
<circle cx="454.4" cy="185.5" r="1.75" fill="#08a882" fill-opacity="0.8" stroke="#08a882" stroke-opacity="0.85" stroke-width="1"/>
<circle cx="460.2" cy="185.5" r="1.75" fill="#08a882" fill-opacity="0.8" stroke="#08a882" stroke-opacity="0.85" stroke-width="1"/>
<circle cx="454.3" cy="194.4" r="1.75" fill="#08a882" fill-opacity="0.8" stroke="#08a882" stroke-opacity="0.85" stroke-width="1"/>
<circle cx="449.6" cy="195.6" r="1.75" fill="#08a882" fill-opacity="0.8" stroke="#08a882" stroke-opacity="0.85" stroke-width="1"/>
<circle cx="453.6" cy="197.1" r="1.75" fill="#08a882" fill-opacity="0.8" stroke="#08a882" stroke-opacity="0.85" stroke-width="1"/>
<circle cx="457.6" cy="198.1" r="1.75" fill="#08a882" fill-opacity="0.8" stroke="#08a882" stroke-opacity="0.85" stroke-width="1"/>
<circle cx="452.1" cy="204.1" r="1.75" fill="#08a882" fill-opacity="0.8" stroke="#08a882" stroke-opacity="0.85" stroke-width="1"/>
<circle cx="459.4" cy="207.3" r="1.75" fill="#08a882" fill-opacity="0.8" stroke="#08a882" stroke-opacity="0.85" stroke-width="1"/>
<circle cx="449.3" cy="209.7" r="1.75" fill="#08a882" fill-opacity="0.8" stroke="#08a882" stroke-opacity="0.85" stroke-width="1"/>
<circle cx="452.8" cy="211.2" r="1.75" fill="#08a882" fill-opacity="0.8" stroke="#08a882" stroke-opacity="0.85" stroke-width="1"/>
<circle cx="457.6" cy="210.6" r="1.75" fill="#08a882" fill-opacity="0.8" stroke="#08a882" stroke-opacity="0.85" stroke-width="1"/>
<circle cx="455.7" cy="213.6" r="1.75" fill="#08a882" fill-opacity="0.8" stroke="#08a882" stroke-opacity="0.85" stroke-width="1"/>
<circle cx="450.8" cy="215.0" r="1.75" fill="#08a882" fill-opacity="0.8" stroke="#08a882" stroke-opacity="0.85" stroke-width="1"/>
<circle cx="453.6" cy="222.8" r="1.75" fill="#08a882" fill-opacity="0.8" stroke="#08a882" stroke-opacity="0.85" stroke-width="1"/>
<line x1="121.5" y1="183" x2="121.5" y2="231.5" stroke="#3a3a3a" stroke-width="1.4"/>
<rect x="119.7" y="193.8" width="3.6" height="28.4" rx="0.8" fill="#6adcbc" stroke="#111" stroke-width="1.4"/>
<line x1="119.7" y1="216.2" x2="123.3" y2="216.2" stroke="#111" stroke-width="1.6"/>
<line x1="125.3" y1="188.7" x2="125.3" y2="233.7" stroke="#3a3a3a" stroke-width="1.4"/>
<rect x="123.5" y="210.2" width="3.6" height="15.6" rx="0.8" fill="#f6aa6e" stroke="#111" stroke-width="1.4"/>
<line x1="123.5" y1="222" x2="127.1" y2="222" stroke="#111" stroke-width="1.6"/>
<line x1="129.1" y1="203.9" x2="129.1" y2="232.7" stroke="#3a3a3a" stroke-width="1.4"/>
<rect x="127.3" y="213.2" width="3.6" height="10.2" rx="0.8" fill="#c9c5ef" stroke="#111" stroke-width="1.4"/>
<line x1="127.3" y1="219.1" x2="130.9" y2="219.1" stroke="#111" stroke-width="1.6"/>
<line x1="236.9" y1="150.1" x2="236.9" y2="228.4" stroke="#3a3a3a" stroke-width="1.4"/>
<rect x="235.1" y="169.6" width="3.6" height="40.7" rx="0.8" fill="#6adcbc" stroke="#111" stroke-width="1.4"/>
<line x1="235.1" y1="197.7" x2="238.7" y2="197.7" stroke="#111" stroke-width="1.6"/>
<line x1="240.7" y1="181.2" x2="240.7" y2="229.1" stroke="#3a3a3a" stroke-width="1.4"/>
<rect x="238.9" y="200.2" width="3.6" height="20.2" rx="0.8" fill="#f6aa6e" stroke="#111" stroke-width="1.4"/>
<line x1="238.9" y1="211.7" x2="242.5" y2="211.7" stroke="#111" stroke-width="1.6"/>
<line x1="244.5" y1="169.6" x2="244.5" y2="232.7" stroke="#3a3a3a" stroke-width="1.4"/>
<rect x="242.7" y="194.5" width="3.6" height="25.2" rx="0.8" fill="#c9c5ef" stroke="#111" stroke-width="1.4"/>
<line x1="242.7" y1="214.6" x2="246.3" y2="214.6" stroke="#111" stroke-width="1.6"/>
<line x1="352.6" y1="149" x2="352.6" y2="224.3" stroke="#3a3a3a" stroke-width="1.4"/>
<rect x="350.8" y="174.2" width="3.6" height="33.9" rx="0.8" fill="#6adcbc" stroke="#111" stroke-width="1.4"/>
<line x1="350.8" y1="189.9" x2="354.4" y2="189.9" stroke="#111" stroke-width="1.6"/>
<line x1="356.4" y1="187.7" x2="356.4" y2="230.1" stroke="#3a3a3a" stroke-width="1.4"/>
<rect x="354.6" y="203.5" width="3.6" height="15.7" rx="0.8" fill="#f6aa6e" stroke="#111" stroke-width="1.4"/>
<line x1="354.6" y1="211" x2="358.2" y2="211" stroke="#111" stroke-width="1.6"/>
<line x1="360.2" y1="186.2" x2="360.2" y2="235.6" stroke="#3a3a3a" stroke-width="1.4"/>
<rect x="358.4" y="200.2" width="3.6" height="15.1" rx="0.8" fill="#c9c5ef" stroke="#111" stroke-width="1.4"/>
<line x1="358.4" y1="211" x2="362.0" y2="211" stroke="#111" stroke-width="1.6"/>
<line x1="467.6" y1="158.1" x2="467.6" y2="221.8" stroke="#3a3a3a" stroke-width="1.4"/>
<rect x="465.8" y="175.1" width="3.6" height="34.2" rx="0.8" fill="#6adcbc" stroke="#111" stroke-width="1.4"/>
<line x1="465.8" y1="193.8" x2="469.4" y2="193.8" stroke="#111" stroke-width="1.6"/>
<line x1="471.4" y1="174.7" x2="471.4" y2="226.2" stroke="#3a3a3a" stroke-width="1.4"/>
<rect x="469.6" y="196.6" width="3.6" height="18.0" rx="0.8" fill="#f6aa6e" stroke="#111" stroke-width="1.4"/>
<line x1="469.6" y1="205.2" x2="473.2" y2="205.2" stroke="#111" stroke-width="1.6"/>
<line x1="475.2" y1="194.4" x2="475.2" y2="230.5" stroke="#3a3a3a" stroke-width="1.4"/>
<rect x="473.4" y="202" width="3.6" height="15.5" rx="0.8" fill="#c9c5ef" stroke="#111" stroke-width="1.4"/>
<line x1="473.4" y1="206.7" x2="477.0" y2="206.7" stroke="#111" stroke-width="1.6"/>
<g stroke="#14977a" stroke-width="1.4" fill="none"><line x1="136.79999999999998" y1="203.4" x2="136.79999999999998" y2="210.4"/><line x1="134.0" y1="203.4" x2="139.6" y2="203.4"/><line x1="134.0" y1="210.4" x2="139.6" y2="210.4"/></g>
<circle cx="136.79999999999998" cy="208.5" r="1.3" fill="#14977a"/>
<g stroke="#e8661a" stroke-width="1.4" fill="none"><line x1="136.79999999999998" y1="216.5" x2="136.79999999999998" y2="224.3"/><line x1="134.0" y1="216.5" x2="139.6" y2="216.5"/><line x1="134.0" y1="224.3" x2="139.6" y2="224.3"/></g>
<circle cx="136.79999999999998" cy="217.2" r="1.3" fill="#e8661a"/>
<g stroke="#8f89d0" stroke-width="1.4" fill="none"><line x1="136.79999999999998" y1="211.2" x2="136.79999999999998" y2="222.0"/><line x1="134.0" y1="211.2" x2="139.6" y2="211.2"/><line x1="134.0" y1="222.0" x2="139.6" y2="222.0"/></g>
<circle cx="136.79999999999998" cy="217.0" r="1.3" fill="#8f89d0"/>
<g stroke="#14977a" stroke-width="1.4" fill="none"><line x1="252.2" y1="179.3" x2="252.2" y2="199.3"/><line x1="249.4" y1="179.3" x2="255.0" y2="179.3"/><line x1="249.4" y1="199.3" x2="255.0" y2="199.3"/></g>
<circle cx="252.2" cy="189.9" r="1.3" fill="#14977a"/>
<g stroke="#e8661a" stroke-width="1.4" fill="none"><line x1="252.2" y1="199.5" x2="252.2" y2="216.5"/><line x1="249.4" y1="199.5" x2="255.0" y2="199.5"/><line x1="249.4" y1="216.5" x2="255.0" y2="216.5"/></g>
<circle cx="252.2" cy="208.4" r="1.3" fill="#e8661a"/>
<g stroke="#8f89d0" stroke-width="1.4" fill="none"><line x1="252.2" y1="200.0" x2="252.2" y2="216.8"/><line x1="249.4" y1="200.0" x2="255.0" y2="200.0"/><line x1="249.4" y1="216.8" x2="255.0" y2="216.8"/></g>
<circle cx="252.2" cy="207.8" r="1.3" fill="#8f89d0"/>
<g stroke="#14977a" stroke-width="1.4" fill="none"><line x1="367.9" y1="178.3" x2="367.9" y2="196.6"/><line x1="365.1" y1="178.3" x2="370.7" y2="178.3"/><line x1="365.1" y1="196.6" x2="370.7" y2="196.6"/></g>
<circle cx="367.9" cy="187.6" r="1.3" fill="#14977a"/>
<g stroke="#e8661a" stroke-width="1.4" fill="none"><line x1="367.9" y1="199.5" x2="367.9" y2="216.0"/><line x1="365.1" y1="199.5" x2="370.7" y2="199.5"/><line x1="365.1" y1="216.0" x2="370.7" y2="216.0"/></g>
<circle cx="367.9" cy="208.1" r="1.3" fill="#e8661a"/>
<g stroke="#8f89d0" stroke-width="1.4" fill="none"><line x1="367.9" y1="201.0" x2="367.9" y2="218.2"/><line x1="365.1" y1="201.0" x2="370.7" y2="201.0"/><line x1="365.1" y1="218.2" x2="370.7" y2="218.2"/></g>
<circle cx="367.9" cy="208.3" r="1.3" fill="#8f89d0"/>
<g stroke="#14977a" stroke-width="1.4" fill="none"><line x1="482.9" y1="181.6" x2="482.9" y2="197.0"/><line x1="480.1" y1="181.6" x2="485.7" y2="181.6"/><line x1="480.1" y1="197.0" x2="485.7" y2="197.0"/></g>
<circle cx="482.9" cy="189.2" r="1.3" fill="#14977a"/>
<g stroke="#e8661a" stroke-width="1.4" fill="none"><line x1="482.9" y1="198.0" x2="482.9" y2="212.5"/><line x1="480.1" y1="198.0" x2="485.7" y2="198.0"/><line x1="480.1" y1="212.5" x2="485.7" y2="212.5"/></g>
<circle cx="482.9" cy="206.7" r="1.3" fill="#e8661a"/>
<g stroke="#8f89d0" stroke-width="1.4" fill="none"><line x1="482.9" y1="199.5" x2="482.9" y2="215.3"/><line x1="480.1" y1="199.5" x2="485.7" y2="199.5"/><line x1="480.1" y1="215.3" x2="485.7" y2="215.3"/></g>
<circle cx="482.9" cy="208.2" r="1.3" fill="#8f89d0"/>
<text transform="translate(51.4,296.00) scale(1,1.05)" text-anchor="end" font-family="Liberation Sans, Arial, sans-serif" font-size="19" fill="#4d4d4d">0</text>
<text transform="translate(51.4,255.95) scale(1,1.05)" text-anchor="end" font-family="Liberation Sans, Arial, sans-serif" font-size="19" fill="#4d4d4d">10</text>
<text transform="translate(51.4,215.90) scale(1,1.05)" text-anchor="end" font-family="Liberation Sans, Arial, sans-serif" font-size="19" fill="#4d4d4d">20</text>
<text transform="translate(51.4,175.85) scale(1,1.05)" text-anchor="end" font-family="Liberation Sans, Arial, sans-serif" font-size="19" fill="#4d4d4d">30</text>
<text transform="translate(51.4,135.80) scale(1,1.05)" text-anchor="end" font-family="Liberation Sans, Arial, sans-serif" font-size="19" fill="#4d4d4d">40</text>
<text transform="translate(51.4,95.75) scale(1,1.05)" text-anchor="end" font-family="Liberation Sans, Arial, sans-serif" font-size="19" fill="#4d4d4d">50</text>
<text transform="translate(25,188) rotate(-90)" text-anchor="middle" font-family="Liberation Sans, Arial, sans-serif" font-size="18.7" fill="#000">Time (s)</text>
<text transform="translate(135.5,313.5) rotate(-45)" text-anchor="end" font-family="Liberation Sans, Arial, sans-serif" font-size="18.6" fill="#4d4d4d">ST_walking</text>
<text transform="translate(249.5,314.0) rotate(-45)" text-anchor="end" font-family="Liberation Sans, Arial, sans-serif" font-size="18.6" fill="#4d4d4d">DT_SS</text>
<text transform="translate(365.0,314.0) rotate(-45)" text-anchor="end" font-family="Liberation Sans, Arial, sans-serif" font-size="18.6" fill="#4d4d4d">DT_ST</text>
<text transform="translate(480.5,314.0) rotate(-45)" text-anchor="end" font-family="Liberation Sans, Arial, sans-serif" font-size="18.6" fill="#4d4d4d">DT_CL</text>
<text transform="translate(298.2,400.5) scale(1,1.035)" text-anchor="middle" font-family="Liberation Sans, Arial, sans-serif" font-size="18.8" fill="#000">Condition</text>
<text transform="translate(298.5,29.7) scale(1,1.05)" text-anchor="middle" font-family="Liberation Sans, Arial, sans-serif" font-weight="bold" font-size="28" fill="#000">Motor performance</text>
<text x="131" y="60.9" font-family="Liberation Sans, Arial, sans-serif" font-size="18.6" fill="#000">group</text>
<rect x="185.0" y="47" width="14.5" height="14.4" fill="#66d4be"/>
<line x1="192.2" y1="47" x2="192.2" y2="61.4" stroke="#222" stroke-width="1.1"/>
<rect x="186.4" y="50.8" width="11.8" height="7.1" rx="0.9" fill="#1fd6a4" stroke="#111" stroke-width="1.3"/>
<line x1="187.1" y1="54.35" x2="197.5" y2="54.35" stroke="#14977a" stroke-width="1.2"/>
<circle cx="192.3" cy="54.35" r="1.5" fill="#14977a"/>
<text transform="translate(205.6,60.5) scale(1,1.04)" font-family="Liberation Sans, Arial, sans-serif" font-size="16.6" fill="#000">PD-PIGD</text>
<rect x="281.7" y="47" width="14.5" height="14.4" fill="#fc9e62"/>
<line x1="288.9" y1="47" x2="288.9" y2="61.4" stroke="#222" stroke-width="1.1"/>
<rect x="283.1" y="50.8" width="11.8" height="7.1" rx="0.9" fill="#f7883a" stroke="#111" stroke-width="1.3"/>
<line x1="283.8" y1="54.35" x2="294.2" y2="54.35" stroke="#e8661a" stroke-width="1.2"/>
<circle cx="289.0" cy="54.35" r="1.5" fill="#e8661a"/>
<text transform="translate(302.0,60.5) scale(1,1.04)" font-family="Liberation Sans, Arial, sans-serif" font-size="16.6" fill="#000">PD-Tremor</text>
<rect x="391.3" y="47" width="14.5" height="14.4" fill="#bab3de"/>
<line x1="398.5" y1="47" x2="398.5" y2="61.4" stroke="#222" stroke-width="1.1"/>
<rect x="392.7" y="50.8" width="11.8" height="7.1" rx="0.9" fill="#8f89d2" stroke="#111" stroke-width="1.3"/>
<line x1="393.4" y1="54.35" x2="403.8" y2="54.35" stroke="#8f89d0" stroke-width="1.2"/>
<circle cx="398.6" cy="54.35" r="1.5" fill="#8f89d0"/>
<text transform="translate(411.6,60.5) scale(1,1.04)" font-family="Liberation Sans, Arial, sans-serif" font-size="16.6" fill="#000">Control</text>
</svg>
<div class="frame"></div>
</body></html>
